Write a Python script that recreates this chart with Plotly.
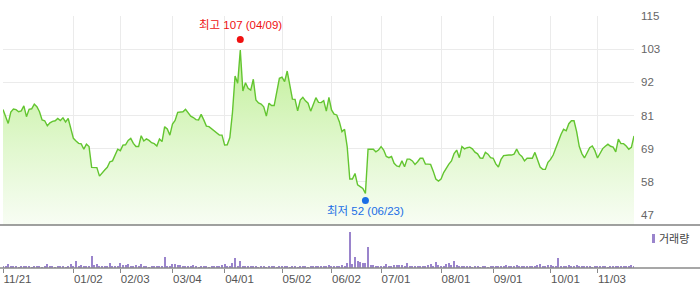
import pandas as pd
import plotly.graph_objects as go

# ---------------- data ----------------
START_DATE = "2024-11-21"
END_DATE = "2025-11-21"
MARKET_HOLIDAYS = ["2024-12-25", "2024-12-31", "2025-01-01", "2025-01-27", "2025-01-28",
                   "2025-01-29", "2025-01-30", "2025-03-03", "2025-05-01", "2025-05-05",
                   "2025-05-06", "2025-06-03", "2025-06-06", "2025-08-15", "2025-10-03",
                   "2025-10-06", "2025-10-07", "2025-10-08", "2025-10-09"]

PRICE = [
    83.1, 80.5, 78.3, 82.2, 83.2, 83.0, 82.3, 82.6, 84.3, 80.6,
    83.1, 83.3, 84.9, 84.0, 82.3, 79.5, 79.2, 77.5, 78.5, 79.0,
    79.2, 80.0, 79.3, 80.2, 78.8, 80.0, 76.5, 73.2, 72.3, 71.5,
    71.3, 69.5, 71.2, 70.4, 63.3, 63.3, 63.2, 60.3, 61.5, 62.4,
    63.3, 65.2, 65.5, 67.4, 69.5, 69.0, 70.9, 71.0, 72.5, 73.2,
    71.5, 70.4, 70.4, 74.1, 72.3, 73.0, 72.5, 71.7, 71.4, 70.6,
    73.0, 72.1, 77.2, 76.4, 74.3, 78.1, 79.3, 82.1, 82.3, 82.3,
    83.1, 82.0, 80.8, 80.3, 79.6, 79.5, 81.4, 79.5, 77.4, 77.2,
    76.5, 75.8, 74.9, 74.3, 74.3, 70.9, 71.0, 73.5, 82.0, 94.5,
    92.0, 103.4, 89.4, 92.2, 90.3, 89.7, 93.4, 86.3, 85.3, 84.9,
    84.0, 80.8, 85.2, 84.4, 84.4, 88.6, 93.7, 94.1, 92.6, 96.2,
    91.4, 86.6, 86.5, 82.6, 86.3, 87.2, 86.0, 85.2, 82.5, 85.2,
    87.1, 85.5, 85.4, 86.1, 82.5, 87.2, 82.9, 81.5, 81.2, 78.9,
    75.5, 76.3, 70.4, 59.3, 59.3, 61.2, 57.3, 56.7, 56.1, 54.4,
    69.5, 69.5, 69.5, 68.6, 69.2, 70.4, 69.2, 67.0, 66.6, 67.0,
    64.7, 63.8, 63.5, 65.5, 63.5, 66.1, 66.1, 65.5, 64.3, 65.2,
    66.4, 66.4, 64.4, 64.4, 64.3, 62.0, 59.3, 58.6, 59.3, 61.5,
    63.2, 64.4, 65.5, 68.0, 69.2, 66.6, 70.4, 69.6, 70.0, 70.2,
    69.6, 68.5, 67.9, 66.5, 66.4, 68.4, 67.8, 66.6, 66.4, 64.5,
    63.4, 66.0, 67.3, 67.5, 67.5, 67.5, 67.8, 69.5, 67.8, 67.0,
    65.5, 66.4, 66.4, 66.4, 68.4, 66.2, 63.4, 62.6, 62.6, 65.0,
    66.0, 67.5, 70.0, 72.5, 74.5, 76.3, 75.8, 78.2, 79.2, 79.2,
    75.5, 70.5, 68.0, 66.5, 68.3, 70.0, 70.6, 69.0, 66.5, 68.3,
    69.7, 70.5, 71.2, 70.5, 70.2, 68.6, 72.9, 71.4, 71.4, 70.6,
    69.5, 70.1, 74.0,
]

VOLUME = [
    20, 12, 37, 20, 11, 13, 10, 12, 11, 14,
    12, 10, 13, 11, 12, 10, 13, 40, 12, 11,
    10, 12, 13, 11, 10, 12, 37, 15, 70, 20,
    30, 20, 12, 14, 120, 30, 40, 20, 14, 23,
    20, 47, 23, 13, 20, 53, 30, 30, 37, 20,
    13, 27, 12, 40, 14, 11, 10, 12, 13, 11,
    12, 14, 113, 15, 13, 40, 37, 30, 27, 13,
    20, 12, 14, 27, 11, 10, 12, 13, 11, 10,
    12, 11, 14, 23, 27, 37, 15, 14, 47, 100,
    20, 73, 20, 13, 12, 11, 13, 12, 10, 11,
    12, 10, 11, 13, 12, 10, 11, 12, 13, 11,
    10, 12, 11, 10, 12, 13, 11, 10, 12, 14,
    13, 15, 20, 14, 20, 27, 20, 13, 15, 20,
    27, 15, 47, 363, 40, 107, 73, 63, 53, 47,
    207, 30, 30, 20, 14, 12, 13, 40, 15, 20,
    27, 27, 27, 27, 14, 47, 20, 13, 12, 11,
    12, 20, 13, 27, 40, 20, 60, 30, 14, 13,
    40, 53, 33, 73, 30, 20, 12, 13, 11, 12,
    10, 12, 11, 10, 12, 11, 10, 13, 12, 20,
    12, 20, 13, 30, 20, 13, 12, 27, 11, 13,
    12, 11, 13, 12, 20, 30, 40, 20, 14, 27,
    30, 20, 14, 103, 12, 13, 14, 33, 12, 11,
    27, 20, 12, 13, 11, 12, 10, 11, 12, 13,
    11, 12, 10, 11, 12, 13, 20, 20, 13, 12,
    14, 27, 15,
]

TICK_DATES = ["2024-11-21", "2025-01-02", "2025-02-03", "2025-03-04", "2025-04-01",
              "2025-05-02", "2025-06-02", "2025-07-01", "2025-08-01", "2025-09-01",
              "2025-10-01", "2025-11-03"]
TICK_LABELS = ["11/21", "01/02", "02/03", "03/04", "04/01", "05/02", "06/02",
               "07/01", "08/01", "09/01", "10/01", "11/03"]

Y_TICK_VALUES = [47, 58.33, 69.67, 81, 92.33, 103.67, 115]
Y_TICK_LABELS = ["47", "58", "69", "81", "92", "103", "115"]

HIGH_DATE, HIGH_VALUE, HIGH_TEXT = "2025-04-09", 107, "최고 107 (04/09)"
LOW_DATE, LOW_VALUE, LOW_TEXT = "2025-06-23", 52, "최저 52 (06/23)"
VOLUME_LABEL = "거래량"

# ---------------- categories ----------------
days = pd.bdate_range(START_DATE, END_DATE)
days = [d.strftime("%Y-%m-%d") for d in days if d.strftime("%Y-%m-%d") not in MARKET_HOLIDAYS]
n = min(len(days), len(PRICE), len(VOLUME))
DATES = days[:n]
PRICE = PRICE[:n]
VOLUME = VOLUME[:n]

# ---------------- style ----------------
W, H = 700, 289
ML, MR, MT, MB = 3, 66, 16, 21
PW = W - ML - MR
PH = H - MT - MB
SPLIT = 43 / PH
FONT = "Liberation Sans, Noto Sans CJK KR, sans-serif"
GRID = "#ebebeb"
LINE_GREEN = "#63c530"
VOL_COLOR = "#9a84cc"

fig = go.Figure()

fig.add_trace(go.Scatter(
    x=DATES, y=PRICE, mode="lines", xaxis="x", yaxis="y",
    line=dict(color=LINE_GREEN, width=1.4),
    fill="tozeroy",
    fillgradient=dict(type="vertical",
                      colorscale=[[0, "rgb(248,253,244)"], [0.45, "rgb(226,248,208)"],
                                  [1, "rgb(196,240,158)"]],
                      start=43.6, stop=100),
    hoverinfo="skip", showlegend=False,
))

fig.add_trace(go.Bar(
    x=DATES, y=VOLUME, xaxis="x2", yaxis="y2",
    marker=dict(color=VOL_COLOR, line=dict(width=0)),
    width=0.42, showlegend=False, hoverinfo="skip",
))

fig.add_trace(go.Scatter(
    x=[HIGH_DATE], y=[HIGH_VALUE], mode="markers", xaxis="x", yaxis="y",
    marker=dict(color="#f01010", size=7), showlegend=False, hoverinfo="skip", cliponaxis=False,
))
fig.add_trace(go.Scatter(
    x=[LOW_DATE], y=[LOW_VALUE], mode="markers", xaxis="x", yaxis="y",
    marker=dict(color="#1a6ee6", size=7), showlegend=False, hoverinfo="skip", cliponaxis=False,
))

fig.add_annotation(x=HIGH_DATE, y=HIGH_VALUE, xref="x", yref="y", text=HIGH_TEXT,
                   showarrow=False, yshift=14, font=dict(family=FONT, size=11.5, color="#ee1111"))
fig.add_annotation(x=LOW_DATE, y=LOW_VALUE, xref="x", yref="y", text=LOW_TEXT,
                   showarrow=False, yshift=-11, font=dict(family=FONT, size=11.5, color="#1a6ee6"))

# volume legend
fig.add_shape(type="rect", xref="paper", yref="paper",
              x0=(652 - ML) / PW, x1=(655 - ML) / PW,
              y0=(268 - 243) / PH, y1=(268 - 234) / PH,
              line=dict(width=0), fillcolor=VOL_COLOR)
fig.add_annotation(x=(657 - ML) / PW, y=(268 - 238.5) / PH, xref="paper", yref="paper",
                   xanchor="left", yanchor="middle", text=VOLUME_LABEL, showarrow=False,
                   font=dict(family=FONT, size=11, color="#444"))

# divider lines
x_left = -ML / PW
x_right = (W - ML) / PW
fig.add_shape(type="line", xref="paper", yref="paper", x0=x_left, x1=x_right,
              y0=SPLIT, y1=SPLIT, line=dict(color="#808080", width=1.5))
fig.add_shape(type="line", xref="paper", yref="paper", x0=x_left, x1=x_right,
              y0=0, y1=0, line=dict(color="#8a8a8a", width=1.5))

last = len(DATES) - 1
fig.update_layout(
    width=W, height=H,
    margin=dict(l=ML, r=MR, t=MT, b=MB),
    paper_bgcolor="white", plot_bgcolor="white",
    showlegend=False,
    font=dict(family=FONT, size=11.5, color="#666"),
    xaxis=dict(type="category", domain=[0, 1], anchor="y", range=[0, last],
               tickvals=TICK_DATES, showticklabels=False, showgrid=True,
               gridcolor=GRID, gridwidth=1, zeroline=False, showline=False, ticks=""),
    xaxis2=dict(type="category", domain=[0, 1], anchor="y2", range=[0, last],
                tickvals=TICK_DATES, ticktext=TICK_LABELS, showgrid=False,
                ticks="outside", ticklen=4, tickcolor="#8a8a8a", tickwidth=1,
                ticklabelposition="outside right",
                tickfont=dict(family=FONT, size=11.5, color="#555"),
                zeroline=False, showline=False),
    yaxis=dict(domain=[SPLIT, 1], anchor="x", range=[43.6, 115], side="right",
               tickvals=Y_TICK_VALUES, ticktext=Y_TICK_LABELS, showgrid=True,
               gridcolor=GRID, gridwidth=1, zeroline=False, showline=False,
               ticks="", ticklabelstandoff=6,
               tickfont=dict(family=FONT, size=11.5, color="#666")),
    yaxis2=dict(domain=[0, SPLIT], anchor="x2", range=[0, 430], showgrid=False,
                showticklabels=False, zeroline=False, showline=False, ticks=""),
    bargap=0,
)

fig.write_html("out.html")
